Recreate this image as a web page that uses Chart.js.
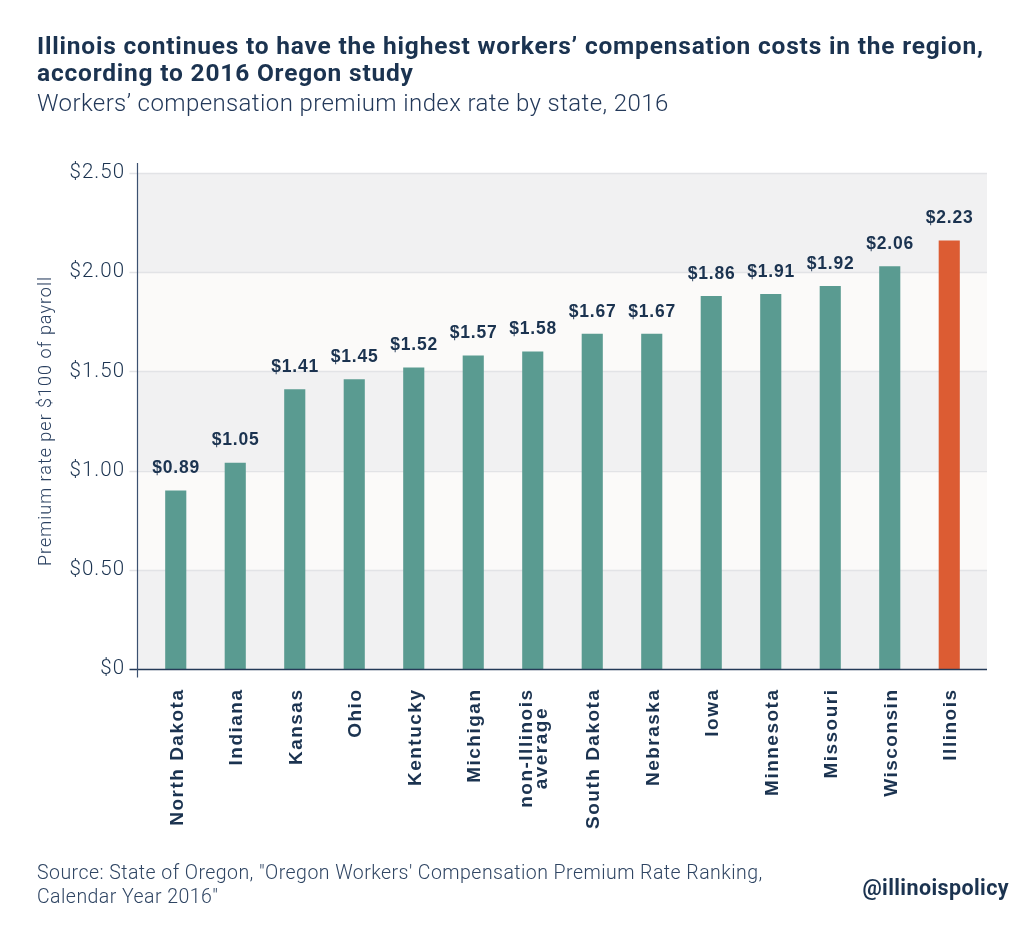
<!DOCTYPE html>
<html>
<head>
<meta charset="utf-8">
<script src="https://cdn.jsdelivr.net/npm/chart.js@4.4.1/dist/chart.umd.min.js"></script>
<style>
  html, body { margin:0; padding:0; background:#ffffff; }
  body { width:1024px; height:931px; position:relative; overflow:hidden; }
  #wrap { position:absolute; left:0; top:0; width:1024px; height:931px; }
  .txt { position:absolute; color:#1b3350; white-space:nowrap; }
  #title { left:37px; top:33px; font:700 24.5px Roboto, sans-serif; line-height:26.5px; letter-spacing:0.8px; }
  #subtitle { left:37px; top:89px; font:300 24px Roboto, sans-serif; line-height:28px; letter-spacing:0.4px; color:#23395a; }
  #source { left:37px; top:861px; font:300 19.5px Roboto, sans-serif; line-height:24px; letter-spacing:0.45px; color:#2f4563; }
  #handle { right:15px; top:875px; font:700 21.5px Roboto, sans-serif; line-height:26px; letter-spacing:0.4px; }
</style>
</head>
<body>
<div id="wrap"><canvas id="c" width="1024" height="931"></canvas></div>
<div class="txt" id="title">Illinois continues to have the highest workers’ compensation costs in the region,<br>according to 2016 Oregon study</div>
<div class="txt" id="subtitle">Workers’ compensation premium index rate by state, 2016</div>
<div class="txt" id="source">Source: State of Oregon, "Oregon Workers' Compensation Premium Rate Ranking,<br>Calendar Year 2016"</div>
<div class="txt" id="handle">@illinoispolicy</div>
<script>
// ---- data ----
const states = ['North Dakota','Indiana','Kansas','Ohio','Kentucky','Michigan',['non-Illinois','average'],'South Dakota','Nebraska','Iowa','Minnesota','Missouri','Wisconsin','Illinois'];
const barValues = [0.90, 1.04, 1.41, 1.46, 1.52, 1.58, 1.60, 1.69, 1.69, 1.88, 1.89, 1.93, 2.03, 2.16];
const valueLabels = ['$0.89','$1.05','$1.41','$1.45','$1.52','$1.57','$1.58','$1.67','$1.67','$1.86','$1.91','$1.92','$2.06','$2.23'];
const yTicks = [0, 0.5, 1.0, 1.5, 2.0, 2.5];
const yTickLabels = ['$0','$0.50','$1.00','$1.50','$2.00','$2.50'];
const highlight = 'Illinois';

const NAVY = '#1b3350';
const TEAL = '#5a9b91';
const ORANGE = '#dc5c33';

const barColors = states.map(s => s === highlight ? ORANGE : TEAL);

const decorPlugin = {
  id: 'decor',
  beforeDraw(chart) {
    const {ctx, chartArea} = chart;
    const y = chart.scales.y;
    const axisX = chartArea.left - 8.5;
    const rightX = chartArea.right + 8;
    ctx.save();
    for (let i = 0; i < yTicks.length - 1; i++) {
      const top = y.getPixelForValue(yTicks[i + 1]);
      const bot = y.getPixelForValue(yTicks[i]);
      ctx.fillStyle = (i % 2 === 0) ? '#f1f1f2' : '#fbfaf9';
      ctx.fillRect(axisX, top, rightX - axisX, bot - top);
    }
    ctx.strokeStyle = '#e2e3e6';
    ctx.lineWidth = 1.5;
    for (let i = 1; i < yTicks.length; i++) {
      const py = Math.round(y.getPixelForValue(yTicks[i])) + 0.5;
      ctx.beginPath();
      ctx.moveTo(axisX - 8, py);
      ctx.lineTo(rightX, py);
      ctx.stroke();
    }
    ctx.restore();
    ctx.letterSpacing = '1px';
  },
  afterDatasetsDraw(chart) {
    const {ctx, chartArea} = chart;
    const y = chart.scales.y;
    const x = chart.scales.x;
    const axisX = chartArea.left - 8.5;
    const rightX = chartArea.right + 8;
    ctx.save();
    ctx.strokeStyle = '#243a57';
    ctx.lineWidth = 1.5;
    const y0 = Math.round(y.getPixelForValue(0)) + 0.5;
    ctx.beginPath();
    ctx.moveTo(axisX - 8, y0);
    ctx.lineTo(rightX, y0);
    ctx.stroke();
    ctx.strokeStyle = '#3b5070';
    ctx.lineWidth = 1.2;
    ctx.beginPath();
    ctx.moveTo(axisX, y.getPixelForValue(2.5) - 10);
    ctx.lineTo(axisX, y0 + 8);
    ctx.stroke();

    const meta = chart.getDatasetMeta(0);
    ctx.fillStyle = NAVY;
    ctx.font = 'bold 17.5px "Liberation Sans", Arial, sans-serif';
    ctx.letterSpacing = '0.8px';
    ctx.textAlign = 'center';
    ctx.textBaseline = 'middle';
    meta.data.forEach((bar, i) => {
      ctx.fillText(valueLabels[i], bar.x + 0.4, bar.y - 22);
    });

    ctx.font = 'bold 19px "Liberation Sans", Arial, sans-serif';
    ctx.letterSpacing = '1.5px';
    const capH = 19 * 0.72;
    const lineGap = 15;
    const topY = y0 + 19;
    states.forEach((lab, i) => {
      const lines = Array.isArray(lab) ? lab : [lab];
      const cx = x.getPixelForValue(i);
      ctx.save();
      ctx.translate(cx, topY);
      ctx.rotate(-Math.PI / 2);
      ctx.textBaseline = 'alphabetic';
      const n = lines.length;
      if (n === 1) {
        ctx.textAlign = 'right';
        ctx.fillText(lines[0], 0, capH / 2);
      } else {
        const widths = lines.map(l => ctx.measureText(l).width);
        const maxW = Math.max(...widths);
        ctx.textAlign = 'center';
        lines.forEach((l, k) => {
          ctx.fillText(l, -maxW / 2, capH / 2 + (k - (n - 1) / 2) * lineGap);
        });
      }
      ctx.restore();
    });
    ctx.restore();
  }
};

new Chart(document.getElementById('c'), {
  type: 'bar',
  data: {
    labels: states,
    datasets: [{
      data: barValues,
      backgroundColor: barColors,
      borderWidth: 0,
      categoryPercentage: 1.0,
      barPercentage: 0.355
    }]
  },
  options: {
    responsive: false,
    animation: false,
    devicePixelRatio: 1,
    layout: { padding: { top: 173, bottom: 262, left: 0, right: 45 } },
    plugins: { legend: { display: false }, tooltip: { enabled: false }, title: { display: false } },
    scales: {
      x: { display: false, offset: true },
      y: {
        min: 0, max: 2.5,
        afterBuildTicks(scale) { scale.ticks = yTicks.map(v => ({ value: v })); },
        afterFit(scale) { scale.width = 146; },
        grid: { display: false, drawTicks: false },
        border: { display: false },
        ticks: {
          padding: 21,
          color: NAVY,
          font: { family: 'Roboto', weight: 300, size: 20.5 },
          callback: (v) => { const k = yTicks.indexOf(v); return k >= 0 ? yTickLabels[k] : ''; }
        },
        title: {
          display: true,
          text: 'Premium rate per $100 of payroll',
          color: '#2a4060',
          font: { family: 'Roboto', weight: 300, size: 18 },
          padding: { top: 36, bottom: 0 }
        }
      }
    }
  },
  plugins: [decorPlugin]
});
</script>
</body>
</html>
